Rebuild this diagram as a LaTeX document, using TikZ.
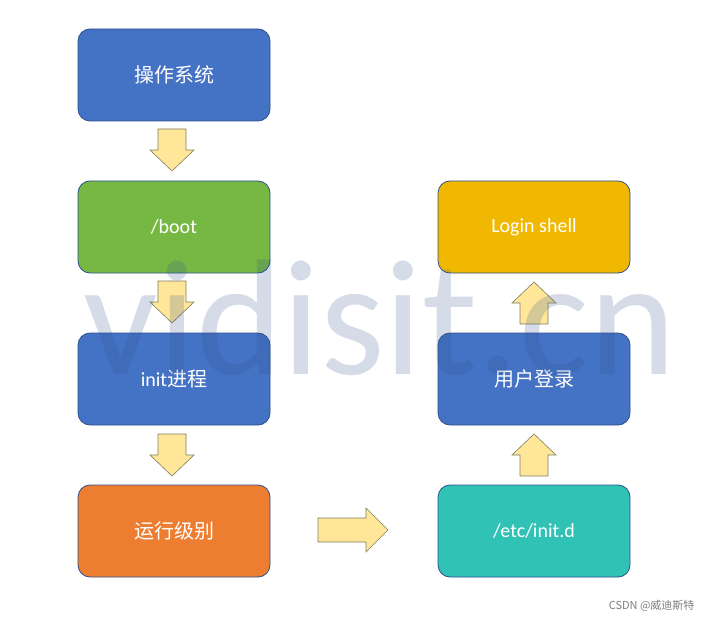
\documentclass[tikz,border=0pt]{standalone}
\usepackage{fontspec}
\setmainfont{Carlito}
\newfontfamily\cjk{Noto Sans CJK SC}
\definecolor{bblue}{HTML}{4472C4}
\definecolor{bgreen}{HTML}{76B843}
\definecolor{borange}{HTML}{ED7D31}
\definecolor{byellow}{HTML}{F0B800}
\definecolor{bteal}{HTML}{30C2B4}
\definecolor{bedge}{HTML}{2F528F}
\definecolor{arrfill}{HTML}{FFE699}
\definecolor{arredge}{HTML}{7F7F5F}
\tikzset{
 box/.style={draw=bedge, line width=0.8pt, rounded corners=12pt, minimum width=192pt, minimum height=92pt, text=white, font=\fontsize{20}{24}\selectfont, inner sep=0pt},
 blk/.style={draw=arredge, fill=arrfill, line width=0.6pt, line join=miter},
}
% down arrow: length 42, shaft 28, head 44
\newcommand{\downblk}[2]{\draw[blk] (#1-14,#2-21) -- (#1+14,#2-21) -- (#1+14,#2) -- (#1+22,#2) -- (#1,#2+21) -- (#1-22,#2) -- (#1-14,#2) -- cycle;}
\newcommand{\upblk}[2]{\draw[blk] (#1-14,#2+21) -- (#1+14,#2+21) -- (#1+14,#2) -- (#1+22,#2) -- (#1,#2-21) -- (#1-22,#2) -- (#1-14,#2) -- cycle;}
\begin{document}
\begin{tikzpicture}[x=1pt,y=-1pt]
\useasboundingbox[fill=white] (0,0) rectangle (706,620);
\node[box, fill=bblue] (os) at (174,75) {\cjk 操作系统};
\node[box, fill=bgreen] (boot) at (174,227) {/boot};
\node[box, fill=bblue] (init) at (174,379) {init\cjk 进程};
\node[box, fill=borange] (run) at (174,531) {\cjk 运行级别};
\node[box, fill=bteal] (etc) at (534,531) {/etc/init.d};
\node[box, fill=bblue] (login) at (534,379) {\cjk 用户登录};
\node[box, fill=byellow] (shell) at (534,227) {Login shell};
\downblk{172}{150}
\downblk{172}{302}
\downblk{172}{455}
\upblk{534}{455}
\upblk{534}{303}
\draw[blk] (318,518) -- (366,518) -- (366,508) -- (388,530) -- (366,552) -- (366,542) -- (318,542) -- cycle;
\node[text=bedge, opacity=0.2, font=\fontsize{165}{165}\selectfont] (wm) at (380,318) {vidisit.cn};
\node[anchor=east, text=gray, font=\cjk\fontsize{11}{13}\selectfont] (csdn) at (698,606) {CSDN @威迪斯特};
\end{tikzpicture}
\end{document}
